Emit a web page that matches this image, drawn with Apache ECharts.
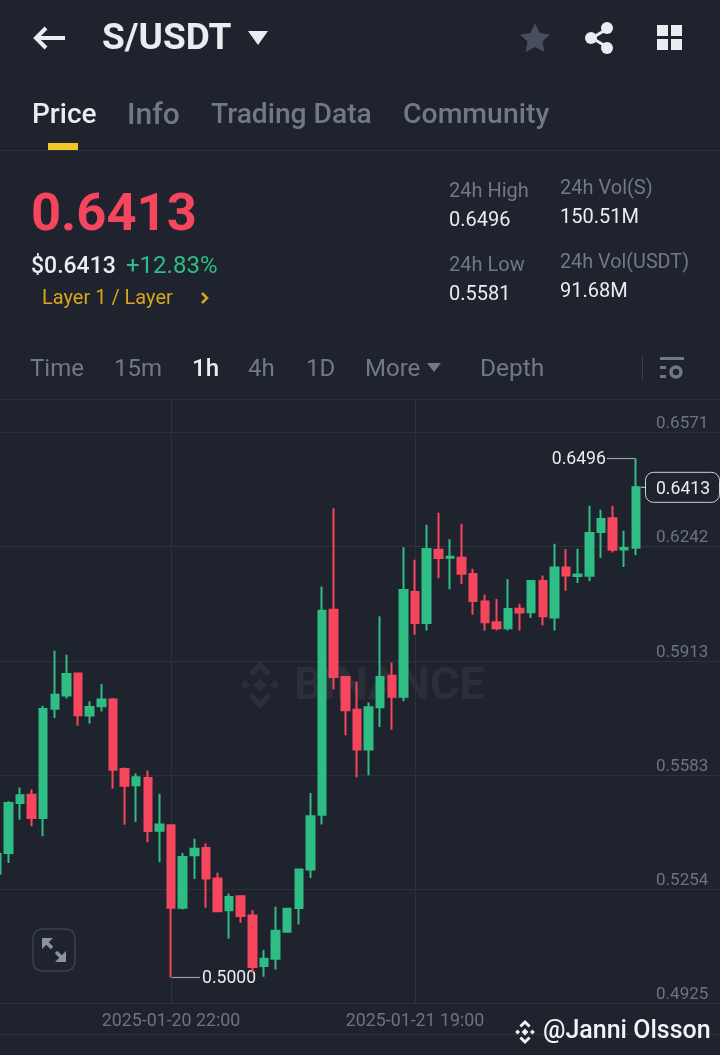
<!DOCTYPE html>
<html>
<head>
<meta charset="utf-8">
<style>html,body{margin:0;padding:0;background:#1e232e}#main{width:720px;height:1055px}</style>
<script src="https://cdn.jsdelivr.net/npm/echarts@6/dist/echarts.min.js"></script>
</head>
<body>
<div id="main"></div>
<script>
// one candle per hour, starts 2025-01-20 07:00
var opens  = [.5299,.5359,.5503,.5527,.5460,.5775,.5813,.5876,.5755,.5782,.5801,.5601,.5554,.5575,.5423,.5439,.5201,.5352,.5373,.5285,.5194,.5234,.5179,.5033,.5054,.5132,.5200,.5311,.5469,.6060,.5866,.5772,.5657,.5779,.5870,.5809,.6111,.6022,.6233,.6210,.6210,.6163,.6084,.6024,.6007,.6063,.6053,.6143,.6038,.6182,.6157,.6158,.6284,.6324,.6234,.6239];
var closes = [.5356,.5503,.5525,.5460,.5774,.5815,.5875,.5756,.5780,.5801,.5599,.5553,.5577,.5422,.5441,.5201,.5347,.5371,.5285,.5191,.5232,.5177,.5030,.5054,.5135,.5198,.5311,.5465,.6057,.5866,.5770,.5657,.5779,.5866,.5809,.6117,.6022,.6235,.6209,.6213,.6164,.6085,.6024,.6007,.6062,.6052,.6143,.6041,.6182,.6159,.6162,.6281,.6322,.6233,.6238,.6413];
var lows   = [.5292,.5330,.5455,.5436,.5407,.5748,.5804,.5726,.5732,.5767,.5544,.5440,.5448,.5390,.5332,.5000,.5196,.5284,.5201,.5191,.5112,.5158,.5014,.5002,.5023,.5132,.5153,.5287,.5441,.5830,.5698,.5577,.5583,.5722,.5714,.5796,.5988,.6000,.6151,.6119,.6134,.6046,.6000,.6000,.6000,.6000,.6036,.6015,.6000,.6115,.6137,.6143,.6209,.6225,.6183,.6218];
var highs  = [.5362,.5508,.5548,.5542,.5783,.5942,.5930,.5878,.5796,.5846,.5806,.5605,.5588,.5597,.5530,.5439,.5359,.5400,.5386,.5302,.5242,.5236,.5194,.5079,.5204,.5198,.5311,.5532,.6127,.6353,.5866,.5853,.5793,.6041,.5908,.6240,.6204,.6305,.6340,.6263,.6308,.6178,.6103,.6091,.6149,.6077,.6143,.6159,.6250,.6235,.6236,.6360,.6348,.6360,.6288,.6496];
var priceTicks = [0.4925, 0.5254, 0.5583, 0.5913, 0.6242, 0.6571];
var dateTicks = ['2025-01-20 22:00', '2025-01-21 19:00'];
var lastPrice = 0.6413, highPrice = 0.6496, lowPrice = 0.5000;

var up = '#2ebd85', down = '#f6465d', bg = '#1e232e', grid = '#2c313c', muted = '#727986', tick = '#6d7480';
var font = 'Roboto';

// hourly categories, a few empty hours on the right like the app leaves
var categories = [];
for (var i = 0; i < 64; i++) {
    var d = new Date(Date.UTC(2025, 0, 20, 7 + i));
    categories.push(d.toISOString().slice(0, 16).replace('T', ' '));
}
var candles = [];
for (i = 0; i < opens.length; i++) {
    candles.push([opens[i], closes[i], lows[i], highs[i]]);
}

function txt(x, y, s, size, color, weight, align) {
    return {type: 'text', x: x, y: y + size * 0.08, silent: true, style: {
        text: s, fontSize: size, fill: color, fontWeight: weight || 400, fontFamily: font,
        align: align || 'left', verticalAlign: 'middle'}};
}
function line(x1, y1, x2, y2, color, w) {
    return {type: 'line', silent: true, shape: {x1: x1, y1: y1, x2: x2, y2: y2}, style: {stroke: color, lineWidth: w || 1}};
}
function tri(x, y, w, h, color) {
    return {type: 'polygon', silent: true, shape: {points: [[x, y], [x + w, y], [x + w / 2, y + h]]}, style: {fill: color}};
}
function diamond(cx, cy, r, color) {
    return {type: 'polygon', silent: true, shape: {points: [[cx, cy - r], [cx + r, cy], [cx, cy + r], [cx - r, cy]]}, style: {fill: color}};
}
function logo(cx, cy, s, color, z) {
    // binance mark built from rhombi
    var parts = [diamond(cx, cy, 3.4 * s, color), diamond(cx - 7.4 * s, cy, 2.4 * s, color), diamond(cx + 7.4 * s, cy, 2.4 * s, color),
        {type: 'polygon', silent: true, shape: {points: [[cx, cy - 12 * s], [cx + 5.6 * s, cy - 6.4 * s], [cx + 3.6 * s, cy - 4.4 * s], [cx, cy - 8 * s], [cx - 3.6 * s, cy - 4.4 * s], [cx - 5.6 * s, cy - 6.4 * s]]}, style: {fill: color}},
        {type: 'polygon', silent: true, shape: {points: [[cx, cy + 12 * s], [cx + 5.6 * s, cy + 6.4 * s], [cx + 3.6 * s, cy + 4.4 * s], [cx, cy + 8 * s], [cx - 3.6 * s, cy + 4.4 * s], [cx - 5.6 * s, cy + 6.4 * s]]}, style: {fill: color}}];
    parts.forEach(function (p) { if (z !== undefined) p.z = z; });
    return parts;
}

var header = [
    // top bar
    {type: 'polyline', silent: true, shape: {points: [[46, 28], [36, 38], [46, 48]]}, style: {stroke: '#eaecef', lineWidth: 4, fill: null}},
    line(37, 38, 65, 38, '#eaecef', 4),
    txt(102, 37, 'S/USDT', 37, '#eaecef', 700),
    tri(248, 31, 20, 14, '#eaecef'),
    {type: 'polygon', silent: true, shape: {points: [[535, 23], [539.6, 33], [550, 34.4], [542.5, 41.6], [544.4, 52], [535, 47], [525.6, 52], [527.5, 41.6], [520, 34.4], [530.4, 33]]}, style: {fill: '#474f5e'}},
    line(592, 38, 607, 29, '#eaecef', 3), line(592, 38, 607, 47, '#eaecef', 3),
    {type: 'circle', silent: true, shape: {cx: 591, cy: 38, r: 6}, style: {fill: '#eaecef'}},
    {type: 'circle', silent: true, shape: {cx: 607, cy: 28, r: 6}, style: {fill: '#eaecef'}},
    {type: 'circle', silent: true, shape: {cx: 607, cy: 48, r: 6}, style: {fill: '#eaecef'}},
    {type: 'rect', silent: true, shape: {x: 657, y: 25, width: 11, height: 11}, style: {fill: '#eaecef'}},
    {type: 'rect', silent: true, shape: {x: 671, y: 25, width: 11, height: 11}, style: {fill: '#eaecef'}},
    {type: 'rect', silent: true, shape: {x: 657, y: 39, width: 11, height: 11}, style: {fill: '#eaecef'}},
    {type: 'rect', silent: true, shape: {x: 671, y: 39, width: 11, height: 11}, style: {fill: '#eaecef'}},
    // tabs
    txt(32, 114, 'Price', 28, '#eaecef', 500),
    txt(127, 114, 'Info', 30, muted, 500),
    txt(211, 114, 'Trading Data', 28.2, muted, 500),
    txt(403, 114, 'Community', 28.4, muted, 500),
    {type: 'rect', silent: true, shape: {x: 48, y: 143, width: 30, height: 7}, style: {fill: '#f0c929'}},
    line(0, 150.5, 720, 150.5, grid),
    // price block
    txt(31, 213, '0.6413', 52.5, down, 700),
    txt(31, 265, '$0.6413', 23, '#eaecef', 500),
    txt(126, 265, '+12.83%', 24, up, 400),
    txt(42, 297, 'Layer 1 / Layer', 20, '#d9a520', 400),
    {type: 'polyline', silent: true, shape: {points: [[202, 293], [207, 298], [202, 303]]}, style: {stroke: '#d9a520', lineWidth: 2.5, fill: null}},
    txt(449, 190, '24h High', 20, muted), txt(449, 219, '0.6496', 20, '#eaecef'),
    txt(449, 264, '24h Low', 20, muted), txt(449, 293, '0.5581', 20, '#eaecef'),
    txt(560, 187, '24h Vol(S)', 20, muted), txt(560, 216, '150.51M', 20, '#eaecef'),
    txt(560, 261, '24h Vol(USDT)', 19.8, muted), txt(560, 290, '91.68M', 20, '#eaecef'),
    // interval bar
    txt(30, 368, 'Time', 24, muted), txt(114, 368, '15m', 24, muted),
    txt(192, 368, '1h', 24, '#eaecef', 500), txt(248, 368, '4h', 24, muted),
    txt(306, 368, '1D', 24, muted), txt(365, 368, 'More', 24, muted),
    tri(427, 363, 14, 9, muted), txt(480, 368, 'Depth', 24.5, muted),
    line(642.5, 356, 642.5, 380, '#3a404c'),
    {type: 'rect', silent: true, shape: {x: 660, y: 357, width: 24, height: 3}, style: {fill: muted}},
    {type: 'rect', silent: true, shape: {x: 660, y: 366, width: 6, height: 3}, style: {fill: muted}},
    {type: 'rect', silent: true, shape: {x: 660, y: 375, width: 6, height: 3}, style: {fill: muted}},
    {type: 'circle', silent: true, shape: {cx: 676, cy: 372, r: 5}, style: {fill: bg, stroke: muted, lineWidth: 3.5}},
    line(0, 399.5, 720, 399.5, grid),
    line(0, 1034.5, 720, 1034.5, grid),
    // expand button
    {type: 'rect', silent: true, shape: {x: 33, y: 929, width: 42, height: 42, r: 9}, style: {fill: 'transparent', stroke: '#3a404c', lineWidth: 1.5}},
    line(46, 942, 52, 948, '#8c93a0', 3.5), line(56, 952, 62, 958, '#8c93a0', 3.5),
    {type: 'polygon', silent: true, shape: {points: [[42, 938], [53, 938], [42, 949]]}, style: {fill: '#8c93a0'}},
    {type: 'polygon', silent: true, shape: {points: [[66, 962], [55, 962], [66, 951]]}, style: {fill: '#8c93a0'}},
    // watermark bottom right
    txt(543, 1030, '@Janni Olsson', 25, '#f2f3f5', 500)
].concat(logo(525, 1032, 1.0, '#f2f3f5'))
 // faint watermark behind the candles
 .concat(logo(260, 685, 2.0, '#2a2f3a', -1));
var wm = txt(294, 684, 'BINANCE', 45, '#2a2f3a', 700);
wm.z = -1;
header.push(wm);

var chart = echarts.init(document.getElementById('main'), null, {renderer: 'canvas'});
var option = {
    animation: false,
    backgroundColor: bg,
    grid: {left: -3.3, width: 732.1, top: 400, height: 603.5, containLabel: false, outerBoundsMode: 'none'},
    xAxis: {
        type: 'category',
        data: categories,
        boundaryGap: false,
        axisLine: {show: true, onZero: false, lineStyle: {color: grid}},
        axisTick: {show: false},
        axisLabel: {
            margin: 9, color: tick, fontSize: 17.8, fontFamily: font, hideOverlap: false,
            interval: function (index, value) { return dateTicks.indexOf(value) >= 0; }
        },
        splitLine: {show: true, lineStyle: {color: grid},
            interval: function (index, value) { return dateTicks.indexOf(value) >= 0; }}
    },
    yAxis: {
        type: 'value',
        position: 'right',
        min: 0.4925,
        max: 0.66647,
        axisLine: {show: false},
        axisTick: {show: false, customValues: priceTicks},
        axisLabel: {
            inside: true, margin: 20.5, color: tick, fontSize: 17, fontFamily: font, verticalAlign: 'bottom',
            customValues: priceTicks,
            formatter: function (v) { return v.toFixed(4); }
        },
        splitLine: {show: true, lineStyle: {color: grid}}
    },
    series: [{
        type: 'candlestick',
        data: candles,
        barWidth: 8,
        itemStyle: {color: up, color0: down, borderColor: up, borderColor0: down, borderColorDoji: up, borderWidth: 2}
    }],
    graphic: {elements: header}
};
chart.setOption(option);

// high / low callouts and the last price tag hang off the drawn scale
var hi = chart.convertToPixel({seriesIndex: 0}, [55, highPrice]);
var lo = chart.convertToPixel({seriesIndex: 0}, [15, lowPrice]);
var la = chart.convertToPixel({seriesIndex: 0}, [55, lastPrice]);
var extra = [
    line(hi[0], hi[1], hi[0] - 29, hi[1], '#9aa0aa', 1.2),
    txt(hi[0] - 30, hi[1], '0.6496', 17.6, '#eaecef', 400, 'right'),
    line(lo[0], lo[1], lo[0] + 29, lo[1], '#9aa0aa', 1.2),
    txt(lo[0] + 31, lo[1], '0.5000', 17.6, '#eaecef', 400, 'left'),
    line(la[0] + 5, la[1], 645, la[1], '#cfd2d6', 1),
    {type: 'rect', silent: true, shape: {x: 645.5, y: la[1] - 15, width: 74, height: 30, r: 8}, style: {fill: bg, stroke: '#cfd2d6', lineWidth: 1}},
    txt(683, la[1] + 1, '0.6413', 17.6, '#eaecef', 400, 'center')
];
chart.setOption({graphic: {elements: header.concat(extra)}});
</script>
</body>
</html>
